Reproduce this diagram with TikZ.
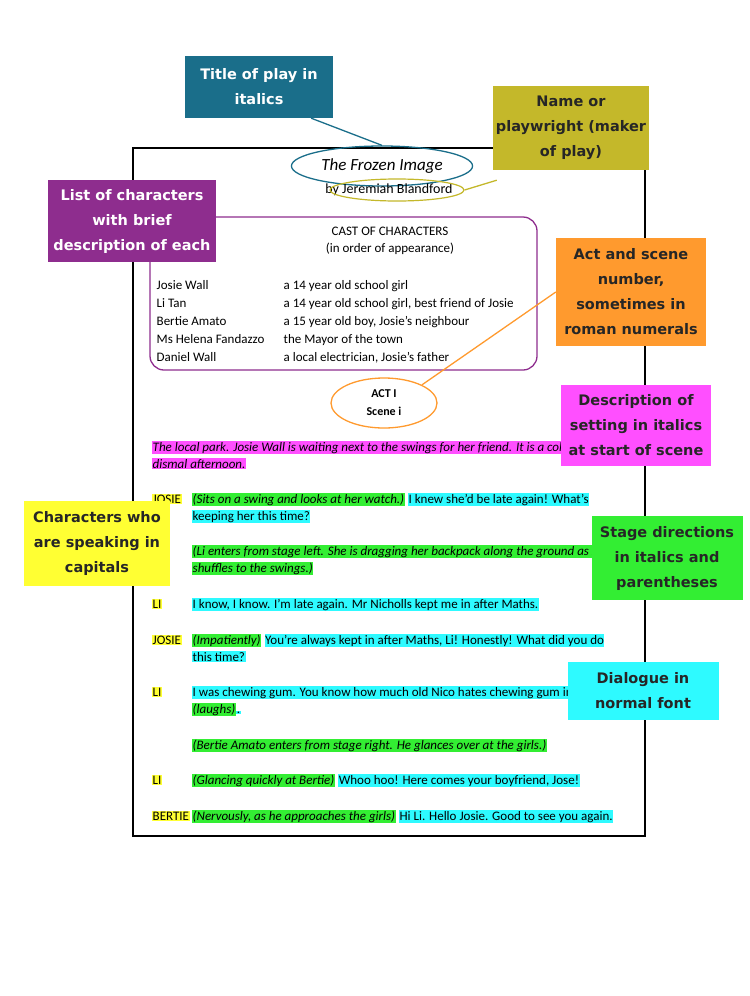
\documentclass[tikz,border=0pt]{standalone}
\usepackage{fontspec}
\setmainfont{Carlito}
\newfontfamily\callfont{DejaVu Sans}
\usetikzlibrary{shapes.geometric}
\definecolor{cteal}{HTML}{1A6E8A}
\definecolor{colive}{HTML}{C4B82A}
\definecolor{cpurple}{HTML}{8E2D8E}
\definecolor{corange}{HTML}{FF9A2E}
\definecolor{cmag}{HTML}{FF4FFF}
\definecolor{cyel}{HTML}{FFFF33}
\definecolor{cgreen}{HTML}{33EE33}
\definecolor{ccyan}{HTML}{2EFAFF}
\begin{document}
\begin{tikzpicture}[x=1bp,y=-1bp,
  body/.style={font=\fontsize{13bp}{15bp}\selectfont, inner sep=0.5pt, anchor=base west},
  dia/.style={body, fill=ccyan},
  sd/.style={body, fill=cgreen, font=\fontsize{13bp}{15bp}\selectfont\itshape},
  spk/.style={body, fill=cyel},
  call/.style={draw=none, minimum width=#1, align=center, inner sep=3pt,
    font=\callfont\bfseries\fontsize{14.5bp}{25bp}\selectfont},
  call/.default=150bp]
\useasboundingbox (0,0) rectangle (750,996);
\fill[white] (0,0) rectangle (750,996);
\draw[line width=1.2pt] (133,148) rectangle (645,836);

% title
\node[ellipse, draw=cteal, line width=1.3pt, minimum width=164bp, minimum height=40bp,
  font=\fontsize{17bp}{19bp}\selectfont\itshape] (title) at (382,166) {The Frozen Image};
\node[font=\fontsize{14bp}{16bp}\selectfont] (by) at (389,190) {by Jeremiah Blandford};
\node[ellipse, draw=colive, line width=1.2pt, minimum width=134bp, minimum height=22bp] (nameell) at (397,190) {};

% cast
\draw[cpurple, line width=1.3pt, rounded corners=14bp] (150,217) rectangle (537,370);
\node[font=\fontsize{13bp}{15bp}\selectfont] (cast) at (390,231) {CAST OF CHARACTERS};
\node[font=\fontsize{13bp}{15bp}\selectfont] (order) at (390,249) {(in order of appearance)};
\foreach \n/\d/\y in {Josie Wall/a 14 year old school girl/289,
  Li Tan/{a 14 year old school girl, best friend of Josie}/307,
  Bertie Amato/{a 15 year old boy, Josie’s neighbour}/325,
  Ms Helena Fandazzo/the Mayor of the town/343,
  Daniel Wall/{a local electrician, Josie’s father}/361}{
  \node[body] at (156,\y) {\n};
  \node[body] at (283,\y) {\d};
}

% act
\node[ellipse, draw=corange, line width=1.3pt, minimum width=106bp, minimum height=50bp,
  align=center, font=\fontsize{12bp}{18bp}\selectfont\bfseries] (act) at (384,403) {ACT I\\Scene i};

% setting
\node[body, fill=cmag, font=\fontsize{13bp}{15bp}\selectfont\itshape] (s1) at (152,451) {The local park. Josie Wall is waiting next to the swings for her friend. It is a cold,};
\node[body, fill=cmag, font=\fontsize{13bp}{15bp}\selectfont\itshape] (s2) at (152,468) {dismal afternoon.};

% dialogue
\node[spk] (j1) at (152,503) {JOSIE};
\node[sd] (j1a) at (192,503) {(Sits on a swing and looks at her watch.)};
\node[dia] (j1b) at ([xshift=3bp]j1a.base east) {I knew she’d be late again! What’s};
\node[dia] (j1c) at (192,520) {keeping her this time?};
\node[sd] (d1) at (192,555) {(Li enters from stage left. She is dragging her backpack along the ground as she};
\node[sd] (d2) at (192,572) {shuffles to the swings.)};
\node[spk] (l1) at (152,608) {LI};
\node[dia] (l1a) at (192,608) {I know, I know. I’m late again. Mr Nicholls kept me in after Maths.};
\node[spk] (j2) at (152,644) {JOSIE};
\node[sd] (j2a) at (192,644) {(Impatiently)};
\node[dia] (j2b) at ([xshift=3bp]j2a.base east) {You’re always kept in after Maths, Li! Honestly! What did you do};
\node[dia] (j2c) at (192,661) {this time?};
\node[spk] (l2) at (152,696) {LI};
\node[dia] (l2a) at (192,696) {I was chewing gum. You know how much old Nico hates chewing gum in class};
\node[sd] (l2b) at (192,713) {(laughs)};
\node[dia] (l2c) at (l2b.base east) {.};
\node[sd] (d3) at (192,749) {(Bertie Amato enters from stage right. He glances over at the girls.)};
\node[spk] (l3) at (152,784) {LI};
\node[sd] (l3a) at (192,784) {(Glancing quickly at Bertie)};
\node[dia] (l3b) at ([xshift=3bp]l3a.base east) {Whoo hoo! Here comes your boyfriend, Jose!};
\node[spk] (b1) at (152,820) {BERTIE};
\node[sd] (b1a) at (192,820) {(Nervously, as he approaches the girls)};
\node[dia] (b1b) at ([xshift=3bp]b1a.base east) {Hi Li. Hello Josie. Good to see you again.};

% callouts
\node[call=148bp, fill=cteal, text=white, minimum height=62bp] (ct) at (259,87) {Title of play in\\italics};
\node[call, fill=colive, text=black!85, minimum height=84bp] (cn) at (571,128) {Name or\\playwright (maker\\of play)};
\node[call=168bp, fill=cpurple, text=white, minimum height=82bp] (cp) at (132,221) {List of characters\\with brief\\description of each};
\node[call, fill=corange, text=black!85, minimum height=108bp] (co) at (631,292) {Act and scene\\number,\\sometimes in\\roman numerals};
\node[call, fill=cmag, text=black!85, minimum height=81bp] (cm) at (636,425) {Description of\\setting in italics\\at start of scene};
\node[call=146bp, fill=cyel, text=black!85, minimum height=85bp] (cy) at (97,543) {Characters who\\are speaking in\\capitals};
\node[call=151bp, fill=cgreen, text=black!85, minimum height=84bp] (cg) at (667,558) {Stage directions\\in italics and\\parentheses};
\node[call=151bp, fill=ccyan, text=black!85, minimum height=58bp] (cc) at (643,691) {Dialogue in\\normal font};

\draw[cteal, line width=1.3pt] (ct.south east) ++(-22bp,0) -- (title.north);
\draw[colive, line width=1.3pt] (cn.south west) ++(4bp,-10bp) -- (nameell.east);
\draw[corange, line width=1.3pt] (co.west) -- (act.north east);
\end{tikzpicture}
\end{document}
